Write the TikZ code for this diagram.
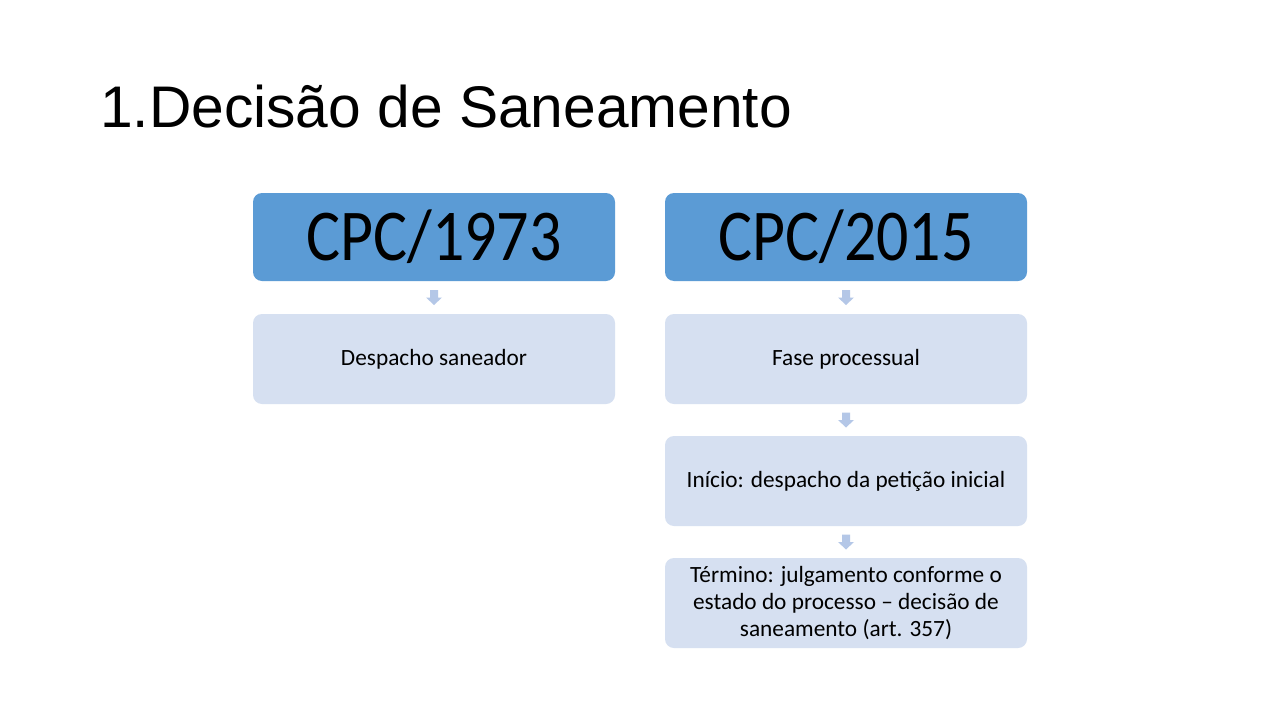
\documentclass[tikz,border=0pt]{standalone}
\usepackage{fontspec}
\setmainfont{Carlito}
\newfontfamily\titlefont{Liberation Sans}
\definecolor{hdr}{HTML}{5B9BD5}
\definecolor{child}{HTML}{D6E0F1}
\definecolor{arr}{HTML}{B4C7E7}
\begin{document}
\begin{tikzpicture}[x=1pt,y=-1pt,
  hdrbox/.style={fill=hdr,rounded corners=9pt,minimum width=362pt,minimum height=88pt,inner sep=0pt,
    font=\fontsize{73}{73}\selectfont},
  childbox/.style={fill=child,rounded corners=9pt,minimum width=362pt,minimum height=90pt,inner sep=0pt,
    align=center,font=\fontsize{23.3}{27}\selectfont},
  blockarr/.style={fill=arr}]
\useasboundingbox (0,0) rectangle (1280,720);
\fill[white] (0,0) rectangle (1280,720);
\node[anchor=base west,font=\titlefont\fontsize{58.7}{59}\selectfont,inner sep=0pt] (title) at (100,127) {1.Decisão de Saneamento};
\node[hdrbox] (h1) at (434,237) {\scalebox{0.875}[1]{CPC/1973}};
\node[hdrbox] (h2) at (846,237) {\scalebox{0.875}[1]{CPC/2015}};
\node[childbox] (c1) at (434,359) {Despacho saneador};
\node[childbox] (c2) at (846,359) {Fase processual};
\node[childbox] (c3) at (846,481) {Início: despacho da petição inicial};
\node[childbox] (c4) at (846,603) {Término: julgamento conforme o\\estado do processo – decisão de\\saneamento (art. 357)};
% block arrows
\foreach \a/\b in {h1/c1,h2/c2,c2/c3,c3/c4}{
  \path (\a.south) -- (\b.north) coordinate[pos=0.5] (m\a);
  \fill[blockarr] ([shift={(-4,-7.5)}]m\a) -- ([shift={(4,-7.5)}]m\a) -- ([shift={(4,0)}]m\a)
    -- ([shift={(8,0)}]m\a) -- ([shift={(0,7.5)}]m\a) -- ([shift={(-8,0)}]m\a) -- ([shift={(-4,0)}]m\a) -- cycle;
}
\end{tikzpicture}
\end{document}
